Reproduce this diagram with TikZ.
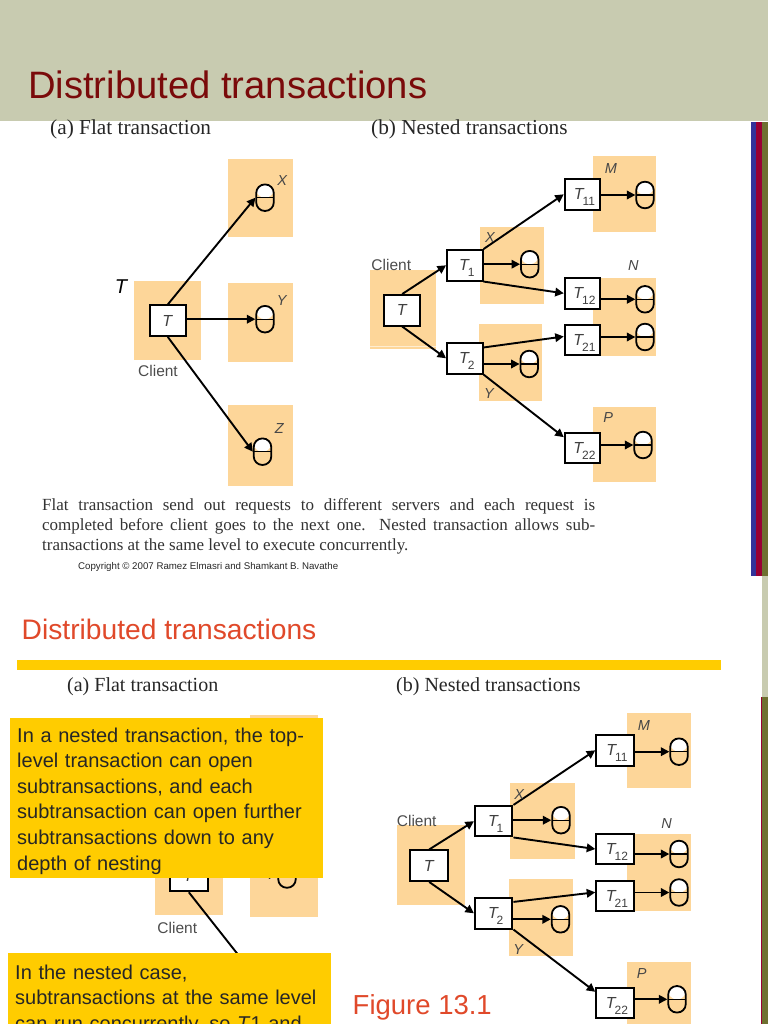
\documentclass[tikz,border=0pt]{standalone}
\usepackage{fontspec}
\setmainfont{Liberation Serif}
\setsansfont{Liberation Sans}
\usetikzlibrary{arrows.meta}
\definecolor{headsage}{HTML}{C8CBB0}
\definecolor{titlered}{HTML}{7A0A0A}
\definecolor{slidered}{HTML}{E0492A}
\definecolor{noteyellow}{HTML}{FFCC00}
\definecolor{zoneorange}{HTML}{FDD699}
\definecolor{barblue}{HTML}{33339A}
\definecolor{barred}{HTML}{990033}
\definecolor{barolive}{HTML}{6E7030}
\newcommand{\tsub}[2]{\hspace*{4pt}\textit{#1}\kern-2pt\raisebox{-6pt}[0pt][0pt]{\fontsize{12}{12}\selectfont #2}}
\tikzset{
  txbox/.style={draw=black,fill=white,line width=2pt,minimum width=35.5pt,minimum height=30.5pt,inner sep=0pt,font=\sffamily\fontsize{16}{18}\selectfont,text=black!75},
  diskbox/.style={draw=black,line width=1.8pt,rounded corners=8.5pt,minimum width=17.5pt,minimum height=26.5pt,inner sep=0pt,
    path picture={\fill[white] (path picture bounding box.north west) rectangle (path picture bounding box.east);
      \draw[line width=1.3pt] (path picture bounding box.west) -- (path picture bounding box.east);}},
  zone/.style={fill=zoneorange},
  arrowline/.style={line width=1.9pt,-{Triangle[length=8.5pt,width=8.5pt]}},
  smalllabel/.style={inner sep=0pt,font=\sffamily\itshape\fontsize{14.5}{16}\selectfont,text=black!72},
  clientlabel/.style={inner sep=0pt,font=\sffamily\fontsize{15.5}{17}\selectfont,text=black!70},
  subhead/.style={inner sep=0pt,anchor=west,font=\fontsize{21.3}{24}\selectfont,text=black!85},
  notebox/.style={fill=noteyellow,anchor=north west,inner xsep=7.7pt,inner ysep=0pt,text width=297.6pt,align=left,font=\sffamily\fontsize{20}{25.6}\selectfont,text=black!85}
}
\begin{document}
\begin{tikzpicture}[x=1pt,y=-1pt]
    \path[use as bounding box,clip] (0,0) rectangle (768,1024);
    % upper slide
    \fill[headsage] (0,0) rectangle (768,121.5);
    \fill[barblue] (751,122) rectangle (756,576);
    \fill[barred] (756,122) rectangle (762.3,576);
    \fill[barolive] (762.3,122) rectangle (768,576);
    \fill[headsage] (761.5,576) rectangle (768,697);
    \fill[barred] (761.2,697) rectangle (762.4,1024);
    \fill[barolive] (762.2,697) rectangle (768,1024);
    \node (title) at (28,84.5) [inner sep=0pt,anchor=west,text=titlered,font=\sffamily\fontsize{38.2}{42}\selectfont] {Distributed transactions};
    \node (flathead) at (50,129) [subhead] {(a) Flat transaction};
    \node (nesthead) at (371,129) [subhead] {(b) Nested transactions};
    % flat transaction
    \fill[zone] (227.5,158.7) rectangle (293,237.3);
    \fill[zone] (227.5,282.7) rectangle (293,361.7);
    \fill[zone] (227.5,405) rectangle (293,485.7);
    \fill[zone] (134.3,281) rectangle (201,359.7);
    \node (ft) at (167.8,320.7) [txbox] {\textit{T}};
    \node (fdx) at (265,197.7) [diskbox] {};
    \node (fdy) at (265,319.2) [diskbox] {};
    \node (fdz) at (262.5,451.7) [diskbox] {};
    \draw[arrowline] (ft.north) -- (fdx.west);
    \draw[arrowline] (ft.east |- fdy.west) -- (fdy.west);
    \draw[arrowline] (ft.south) -- (fdz.west);
    \node (fbigt) at (121,287) [inner sep=0pt,font=\sffamily\itshape\fontsize{20}{22}\selectfont] {T};
    \node (fclient) at (158,371) [clientlabel] {Client};
    \node (flx) at (282.3,181) [smalllabel] {X};
    \node (fly) at (281.7,300.7) [smalllabel] {Y};
    \node (flz) at (279.3,428.3) [smalllabel] {Z};
    % nested transactions
    \fill[zone] (370,270) rectangle (436,349.3);
    \draw[white!55!zoneorange,line width=.8pt] (370,346.7) -- (436,346.7);
    \fill[zone] (480.3,226.7) rectangle (543.7,303.7);
    \fill[zone] (479,323.7) rectangle (541.7,401);
    \fill[zone] (593.3,156.3) rectangle (656.3,232);
    \fill[zone] (593.3,278) rectangle (656.3,355.7);
    \fill[zone] (593.3,407) rectangle (656.3,482.3);
    \node (nt) at (402.2,310.3) [txbox] {\textit{T}};
    \node (nt1) at (464.8,265.3) [txbox] {\tsub{T}{1}};
    \node (nt2) at (464.8,358.3) [txbox] {\tsub{T}{2}};
    \node (nt11) at (582.5,194.3) [txbox] {\tsub{T}{11}};
    \node (nt12) at (582.5,293.3) [txbox] {\tsub{T}{12}};
    \node (nt21) at (582.5,339.8) [txbox] {\tsub{T}{21}};
    \node (nt22) at (582.5,448) [txbox] {\tsub{T}{22}};
    \node (ndx) at (529.7,264.2) [diskbox] {};
    \node (ndy) at (529.2,364) [diskbox] {};
    \node (ndm) at (645,195) [diskbox] {};
    \node (ndn) at (645,299.3) [diskbox] {};
    \node (ndo) at (645,337) [diskbox] {};
    \node (ndp) at (643,445) [diskbox] {};
    \draw[arrowline] (nt.north) -- (nt1.west);
    \draw[arrowline] (nt.south) -- (nt2.west);
    \draw[arrowline] (nt1.north east) -- (nt11.west);
    \draw[arrowline] (nt1.east |- ndx.west) -- (ndx.west);
    \draw[arrowline] (nt1.south east) -- (nt12.west);
    \draw[arrowline] (nt2.30) -- (nt21.170);
    \draw[arrowline] (nt2.east |- ndy.west) -- (ndy.west);
    \draw[arrowline] (nt2.south east) -- (nt22.150);
    \draw[arrowline] (nt11.east |- ndm.west) -- (ndm.west);
    \draw[arrowline] (nt12.east |- ndn.west) -- (ndn.west);
    \draw[arrowline] (nt21.east |- ndo.west) -- (ndo.west);
    \draw[arrowline] (nt22.east |- ndp.west) -- (ndp.west);
    \node (nclient) at (391.3,265) [clientlabel] {Client};
    \node (nlm) at (611,168.3) [smalllabel] {M};
    \node (nlx) at (490,237.3) [smalllabel] {X};
    \node (nln) at (633.3,266) [smalllabel] {N};
    \node (nly) at (489,393.3) [smalllabel] {Y};
    \node (nlp) at (608.3,417.3) [smalllabel] {P};
    \node (para) at (42,526) [inner sep=0pt,anchor=west,text width=553pt,align=justify,text=black!80,font=\fontsize{17}{20}\selectfont] {Flat transaction send out requests to different servers and each request is\linebreak completed before client goes to the next one. Nested transaction allows sub-\linebreak transactions at the same level to execute concurrently.};
    \node (copyr) at (78,566.5) [inner sep=0pt,anchor=west,font=\sffamily\fontsize{9.7}{11}\selectfont,text=black!85] {Copyright \textcopyright{} 2007 Ramez Elmasri and Shamkant B. Navathe};
    % lower slide
    \node (lowtitle) at (21.5,629.5) [inner sep=0pt,anchor=west,text=slidered,font=\sffamily\fontsize{28.2}{32}\selectfont] {Distributed transactions};
    \fill[noteyellow] (17.3,660) rectangle (721,670);
    \node (lflathead) at (67,687) [subhead,font=\fontsize{20}{22}\selectfont] {(a) Flat transaction};
    \node (lnesthead) at (396,687) [subhead,font=\fontsize{20}{22}\selectfont] {(b) Nested transactions};
    % flat transaction, mostly covered by the notes
    \fill[zone] (250,715) rectangle (318.3,800);
    \fill[zone] (250,838) rectangle (318.3,916.7);
    \fill[zone] (155,836) rectangle (223.3,915);
    \node (gt) at (188.8,876) [txbox,minimum width=37.5pt] {\textit{T}};
    \node (gdy) at (287,874.5) [diskbox] {};
    \coordinate (gend) at (262,985);
    \draw[arrowline] (gt.east |- gdy.west) -- (gdy.west);
    \draw[line width=1.9pt] (gt.south) -- (gend);
    \node (gclient) at (177.3,927.7) [clientlabel] {Client};
    % nested transactions again
    \fill[zone] (396.7,825) rectangle (465,905);
    \fill[zone] (510,782.7) rectangle (574.7,859.3);
    \fill[zone] (508.7,879.3) rectangle (573.3,956);
    \fill[zone] (626.7,712.7) rectangle (690.7,788);
    \fill[zone] (626.7,834) rectangle (690.7,911);
    \fill[zone] (626.7,962.3) rectangle (690.7,1024);
    \node (mt) at (429.2,865.7) [txbox,minimum width=37.5pt] {\textit{T}};
    \node (mt1) at (493.7,821.2) [txbox,minimum width=37.5pt] {\tsub{T}{1}};
    \node (mt2) at (493.7,913.3) [txbox,minimum width=37.5pt] {\tsub{T}{2}};
    \node (mt11) at (615,750.3) [txbox,minimum width=37.5pt] {\tsub{T}{11}};
    \node (mt12) at (615,849) [txbox,minimum width=37.5pt] {\tsub{T}{12}};
    \node (mt21) at (615,895.8) [txbox,minimum width=37.5pt] {\tsub{T}{21}};
    \node (mt22) at (615,1003.2) [txbox,minimum width=37.5pt] {\tsub{T}{22}};
    \node (mdx) at (561,820.2) [diskbox] {};
    \node (mdy) at (560.5,919.3) [diskbox] {};
    \node (mdm) at (679,751.7) [diskbox] {};
    \node (mdn) at (679,854) [diskbox] {};
    \node (mdo) at (679,892.5) [diskbox] {};
    \node (mdp) at (677,999.3) [diskbox] {};
    \draw[arrowline] (mt.north) -- (mt1.west);
    \draw[arrowline] (mt.south) -- (mt2.west);
    \draw[arrowline] (mt1.north east) -- (mt11.west);
    \draw[arrowline] (mt1.east |- mdx.west) -- (mdx.west);
    \draw[arrowline] (mt1.south east) -- (mt12.west);
    \draw[arrowline] (mt2.30) -- (mt21.170);
    \draw[arrowline] (mt2.east |- mdy.west) -- (mdy.west);
    \draw[arrowline] (mt2.south east) -- (mt22.150);
    \draw[arrowline] (mt11.east |- mdm.west) -- (mdm.west);
    \draw[arrowline] (mt12.east |- mdn.west) -- (mdn.west);
    \draw[arrowline] (mt21.east |- mdo.west) -- (mdo.west);
    \draw[arrowline] (mt22.east |- mdp.west) -- (mdp.west);
    \node (mclient) at (416.7,821) [clientlabel] {Client};
    \node (mlm) at (644,725.7) [smalllabel] {M};
    \node (mlx) at (519.3,794.3) [smalllabel] {X};
    \node (mln) at (666.7,823.3) [smalllabel] {N};
    \node (mly) at (518.3,949.3) [smalllabel] {Y};
    \node (mlp) at (641.7,973.3) [smalllabel] {P};
    % notes on top
    \node (noteone) at (9.3,717.3) [notebox,minimum height=160pt] {\rule{0pt}{21.5pt}In a nested transaction, the top-\\level transaction can open\\subtransactions, and each\\subtransaction can open further\\subtransactions down to any\\depth of nesting};
    \node (notetwo) at (7.3,952.7) [notebox,text width=308pt,minimum height=88.6pt] {\rule{0pt}{19.5pt}In the nested case,\\subtransactions at the same level\\can run concurrently, so \textit{T}1 and};
    \node (figlabel) at (352.5,1007) [inner sep=0pt,anchor=west,text=slidered,font=\sffamily\fontsize{27.5}{32}\selectfont] {Figure 13.1};
\end{tikzpicture}
\end{document}
